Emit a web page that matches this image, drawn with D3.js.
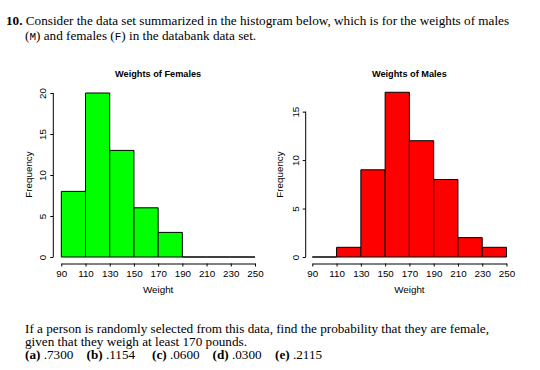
<!DOCTYPE html>
<html>
<head>
<meta charset="utf-8">
<script src="https://cdn.jsdelivr.net/npm/d3@7"></script>
<style>
html,body{margin:0;padding:0;background:#fff;}
svg{display:block;}
.serif{font-family:"Liberation Serif","Times New Roman",serif;}
.mono{font-family:"Liberation Mono","DejaVu Sans Mono",monospace;}
.sans{font-family:"Liberation Sans",Arial,Helvetica,sans-serif;}
</style>
</head>
<body>
<svg id="c" width="540" height="370"></svg>
<script>
// ---- data ----
const binEdges = [90, 110, 130, 150, 170, 190, 210, 230, 250];
const femaleCounts = [8, 20, 13, 6, 3, 0, 0, 0];
const maleCounts = [0, 1, 9, 17, 12, 8, 2, 1];
const xTickLabels = [90, 110, 130, 150, 170, 190, 210, 230, 250];
const femaleYTicks = [0, 5, 10, 15, 20];
const maleYTicks = [0, 5, 10, 15];
const femaleTitle = "Weights of Females";
const maleTitle = "Weights of Males";
const xLabel = "Weight";
const yLabel = "Frequency";

const svg = d3.select("#c");
const FS = "13.2px";

// ---- question text ----
const headG = svg.append("g").attr("class","serif").attr("font-size",FS).attr("fill","#000");
const t1 = headG.append("text").attr("x",6).attr("y",24.5);
t1.append("tspan").attr("font-weight","bold").text("10.");
t1.append("tspan").text(" Consider the data set summarized in the histogram below, which is for the weights of males");
const t2 = headG.append("text").attr("x",25).attr("y",40);
t2.append("tspan").text("(");
t2.append("tspan").attr("class","mono").attr("font-size","11px").text("M");
t2.append("tspan").text(") and females (");
t2.append("tspan").attr("class","mono").attr("font-size","11px").text("F");
t2.append("tspan").text(") in the databank data set.");

const footG = svg.append("g").attr("class","serif").attr("font-size",FS).attr("fill","#000");
footG.append("text").attr("x",25).attr("y",333).text("If a person is randomly selected from this data, find the probability that they are female,");
footG.append("text").attr("x",25).attr("y",346).text("given that they weigh at least 170 pounds.");
const opts = [["(a)"," .7300",25],["(b)"," .1154",86.5],["(c)"," .0600",152],["(d)"," .0300",212.5],["(e)"," .2115",275]];
opts.forEach(o=>{
  const t = footG.append("text").attr("x",o[2]).attr("y",359);
  t.append("tspan").attr("font-weight","bold").text(o[0]);
  t.append("tspan").text(o[1]);
});

// ---- histogram panel ----
const AX = "9.8px";
function panel(cfg){
  const g = svg.append("g").attr("class","sans");
  const x = d3.scaleLinear().domain([90,250]).range(cfg.xr);
  const y = d3.scaleLinear().domain([0,cfg.ymax]).range([257, 257 - cfg.ymax*cfg.unit]);
  const bins = cfg.counts.map((c,i)=>({x0:binEdges[i], x1:binEdges[i+1], c}));
  // bars drawn as closed paths so that empty bins still show as a line at 0
  g.selectAll("path.bar").data(bins).enter().append("path").attr("class","bar")
    .attr("d", d=>{
      const p = d3.path();
      p.moveTo(x(d.x0), y(0));
      p.lineTo(x(d.x0), y(d.c));
      p.lineTo(x(d.x1), y(d.c));
      p.lineTo(x(d.x1), y(0));
      p.closePath();
      return p.toString();
    })
    .attr("fill", cfg.color).attr("stroke","#000").attr("stroke-width",1);

  // x axis
  const xa = d3.axisBottom(x).tickValues(xTickLabels).tickSize(3).tickSizeOuter(0).tickPadding(3.5);
  const gx = g.append("g").attr("transform","translate(0,263.5)").call(xa);
  gx.selectAll("text").attr("font-size",AX).attr("fill","#000").attr("font-family","Liberation Sans, Arial, sans-serif");
  gx.select(".domain").attr("stroke","#000");
  gx.selectAll(".tick line").attr("stroke","#000");

  // y axis
  const ya = d3.axisLeft(y).tickValues(cfg.yticks).tickSize(3).tickSizeOuter(0).tickPadding(4);
  const gy = g.append("g").attr("transform",`translate(${cfg.yx},0)`).call(ya);
  gy.select(".domain").remove();
  gy.append("line").attr("x1",0).attr("x2",0)
    .attr("y1",y(cfg.yticks[0])).attr("y2",y(cfg.yticks[cfg.yticks.length-1])).attr("stroke","#000");
  gy.selectAll(".tick line").attr("stroke","#000");
  gy.selectAll(".tick text").attr("font-size",AX).attr("fill","#000")
    .attr("font-family","Liberation Sans, Arial, sans-serif")
    .attr("text-anchor","middle").attr("x",null)
    .attr("transform","translate(-10.5,0) rotate(-90)").attr("dy","0.35em");

  const cx = (cfg.xr[0]+cfg.xr[1])/2;
  g.append("text").attr("x",cx).attr("y",76.5).attr("text-anchor","middle")
    .attr("font-size","9.2px").attr("font-weight","bold").text(cfg.title);
  g.append("text").attr("x",cx).attr("y",293).attr("text-anchor","middle")
    .attr("font-size",AX).text(xLabel);
  g.append("text").attr("transform",`translate(${cfg.ylx},174.5) rotate(-90)`).attr("text-anchor","middle")
    .attr("font-size",AX).attr("dy","0.35em").text(yLabel);
}

panel({xr:[61.3,255], ymax:20, unit:8.2, counts:femaleCounts, color:"#00ff00", yticks:femaleYTicks, yx:53.3, ylx:29, title:femaleTitle});
panel({xr:[312.3,506.5], ymax:17, unit:9.69, counts:maleCounts, color:"#ff0000", yticks:maleYTicks, yx:305.7, ylx:280, title:maleTitle});
</script>
</body>
</html>
